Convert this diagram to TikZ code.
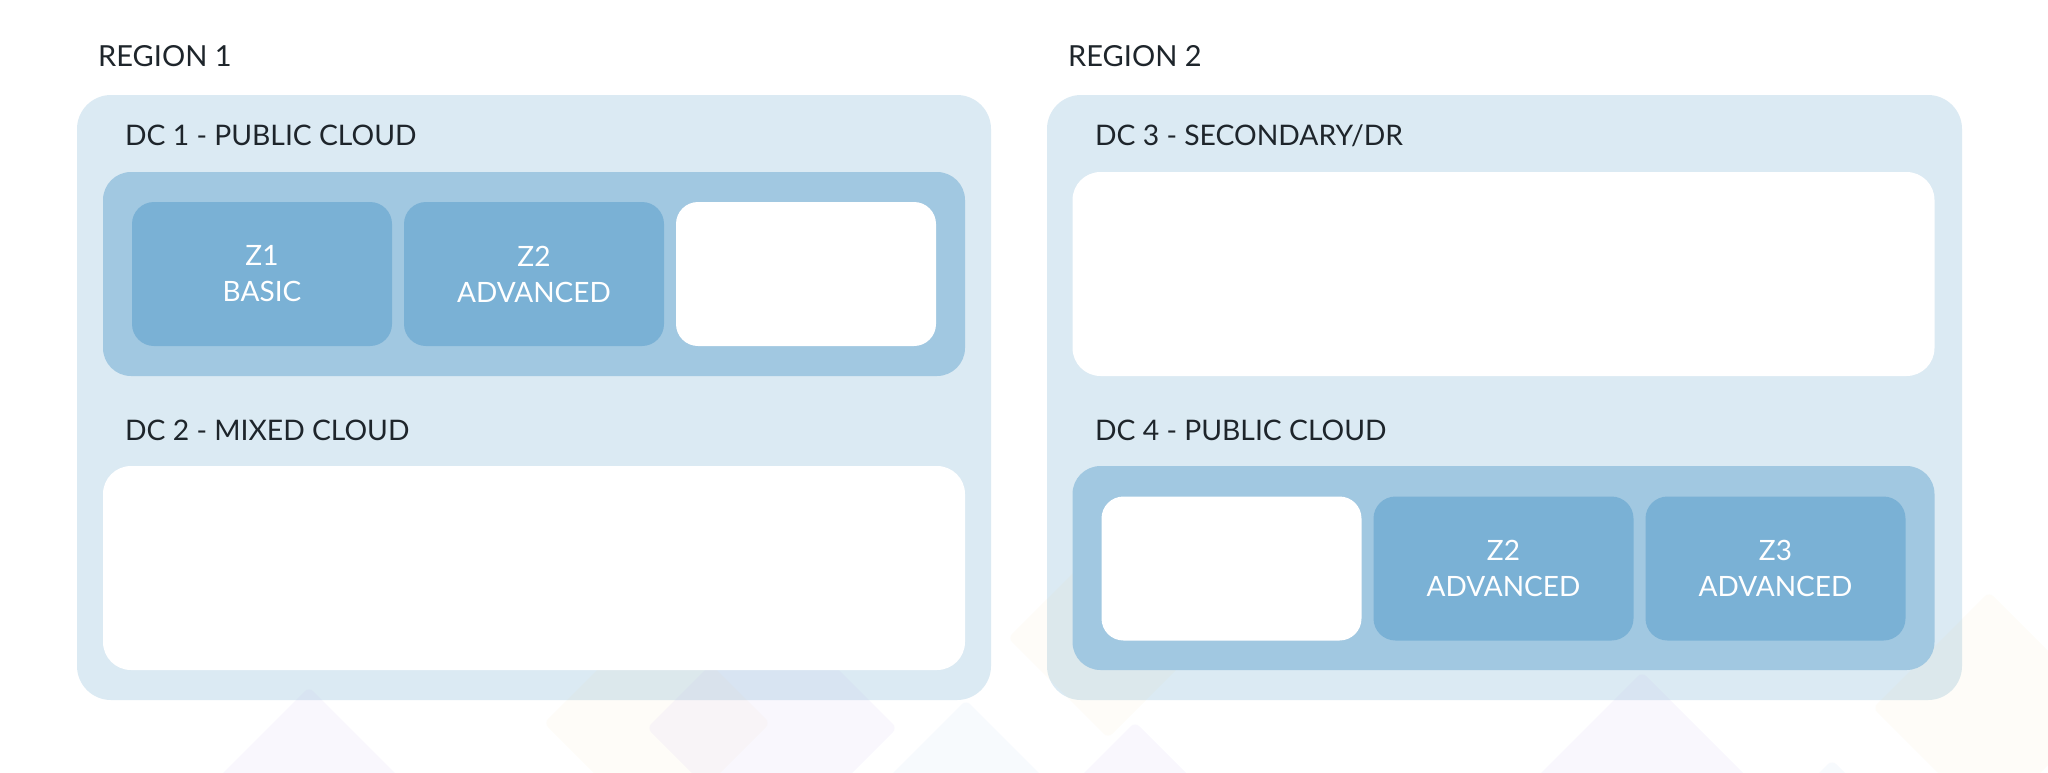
\documentclass[tikz,border=0pt]{standalone}
\usepackage{fontspec}
\setmainfont{Lato}
\definecolor{regfill}{HTML}{DBEAF3}
\definecolor{panelfill}{HTML}{A1C8E1}
\definecolor{zonefill}{HTML}{7AB1D5}
\definecolor{labeltext}{HTML}{1E252B}
\definecolor{dlav}{RGB}{190,170,240}
\definecolor{dbeige}{RGB}{240,210,120}
\definecolor{dblue}{RGB}{150,190,240}
\tikzset{
  regionbox/.style={fill=regfill, draw=none, rounded corners=34pt, inner sep=0pt},
  panelbox/.style={fill=panelfill, draw=none, rounded corners=28pt, inner sep=0pt, minimum width=862pt, minimum height=204pt},
  whitepanel/.style={fill=white, draw=none, rounded corners=28pt, inner sep=0pt, minimum width=862pt, minimum height=204pt},
  zonebox/.style={fill=zonefill, draw=none, rounded corners=22pt, inner sep=0pt, minimum width=260pt, minimum height=144pt, text=white, align=center, font=\fontsize{28}{36}\selectfont},
  emptyzone/.style={fill=white, draw=none, rounded corners=22pt, inner sep=0pt, minimum width=260pt, minimum height=144pt},
  titlelabel/.style={anchor=base west, inner sep=0pt, text=labeltext, font=\fontsize{29}{34}\selectfont},
  dclabel/.style={anchor=base west, inner sep=0pt, text=labeltext, font=\fontsize{28.3}{34}\selectfont},
  lavdiamond/.style={fill=dlav, fill opacity=0.09, rounded corners=6pt},
  beigediamond/.style={fill=dbeige, fill opacity=0.05, rounded corners=6pt},
  bluediamond/.style={fill=dblue, fill opacity=0.07, rounded corners=6pt}
}
\newcommand{\mydiamond}[4]{\fill[#1] (#2,#3-#4) -- (#2+#4,#3) -- (#2,#3+#4) -- (#2-#4,#3) -- cycle;}
\begin{document}
\begin{tikzpicture}[x=1pt,y=-1pt]
\useasboundingbox (0,0) rectangle (2048,772);
\fill[white] (0,0) rectangle (2048,772);

% region labels
\node[titlelabel] (reg1label) at (98,66) {REGION 1};
\node[titlelabel] (reg2label) at (1068,66) {REGION 2};

% region boxes
\node[regionbox, minimum width=914pt, minimum height=605pt] (reg1) at (534,397.5) {};
\node[regionbox, minimum width=915pt, minimum height=605pt] (reg2) at (1504.5,397.5) {};

% faint background diamonds
\begin{scope}
\clip (0,0) rectangle (2048,772);
\mydiamond{lavdiamond}{309}{797}{110}
\mydiamond{beigediamond}{657}{723}{113}
\mydiamond{lavdiamond}{772}{728}{125}
\mydiamond{bluediamond}{966}{810}{110}
\mydiamond{beigediamond}{1108}{638}{100}
\mydiamond{lavdiamond}{1135}{832}{110}
\mydiamond{lavdiamond}{1642}{792}{120}
\mydiamond{bluediamond}{1832}{870}{110}
\mydiamond{beigediamond}{1989}{708}{116}
\end{scope}

% DC labels
\node[dclabel] (dc1label) at (125,145) {DC 1 - PUBLIC CLOUD};
\node[dclabel] (dc2label) at (125,440) {DC 2 - MIXED CLOUD};
\node[dclabel] (dc3label) at (1095,145) {DC 3 - SECONDARY/DR};
\node[dclabel] (dc4label) at (1095,440) {DC 4 - PUBLIC CLOUD};

% DC panels
\node[panelbox] (dc1) at (534,274) {};
\node[whitepanel] (dc2) at (534,568) {};
\node[whitepanel] (dc3) at (1503.5,274) {};
\node[panelbox] (dc4) at (1503.5,568) {};

% zones DC1
\node[zonebox] (dc1z1) at (262,274) {Z1\\BASIC};
\node[zonebox] (dc1z2) at (534,274) {Z2\\ADVANCED};
\node[emptyzone] (dc1z3) at (806,274) {};

% zones DC4
\node[emptyzone] (dc4z1) at (1231.5,568.5) {};
\node[zonebox] (dc4z2) at (1503.5,568.5) {Z2\\ADVANCED};
\node[zonebox] (dc4z3) at (1775.5,568.5) {Z3\\ADVANCED};
\end{tikzpicture}
\end{document}
